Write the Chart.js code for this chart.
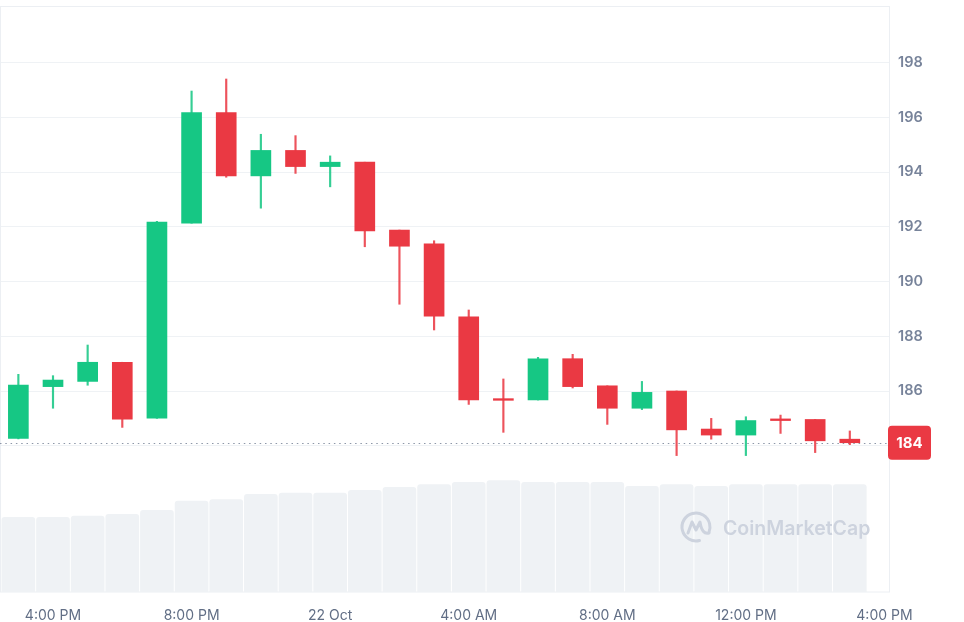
<!DOCTYPE html>
<html><head><meta charset="utf-8">
<script src="https://cdn.jsdelivr.net/npm/chart.js@4.4.1/dist/chart.umd.min.js"></script>
<style>html,body{margin:0;padding:0;background:#fff}#wrap{width:964px;height:622px;position:relative}</style>
</head><body><div id="wrap"><canvas id="c" width="964" height="622"></canvas></div>
<script>
// hourly candles, first = 3:00 PM 21 Oct
const opens  = [184.27,186.16,186.35,187.05,185.01,192.13,196.17,193.86,194.79,194.20,194.36,191.88,191.38,188.71,185.72,185.67,187.18,186.19,185.37,186.00,184.61,184.39,184.98,184.96,184.24];
const closes = [186.22,186.40,187.05,184.97,192.17,196.17,193.86,194.79,194.20,194.36,191.85,191.29,188.73,185.67,185.66,187.18,186.16,185.37,185.95,184.58,184.39,184.92,184.92,184.18,184.11];
const highs  = [186.61,186.56,187.68,187.05,192.20,196.96,197.40,195.38,195.33,194.59,194.36,191.88,191.49,188.96,186.44,187.23,187.34,186.19,186.35,186.00,185.00,185.06,185.12,184.96,184.54];
const lows   = [184.25,185.37,186.21,184.67,185.00,192.13,193.81,192.68,193.95,193.46,191.27,189.17,188.23,185.51,184.49,185.67,186.11,184.78,185.32,183.64,184.24,183.64,184.45,183.75,184.04];
const volumes = [74.6,74.6,76.0,77.6,81.6,91.0,92.3,97.6,99.0,99.0,101.6,104.6,107.3,109.6,111.3,109.6,109.6,109.6,105.6,107.3,105.6,107.3,107.3,107.3,107.3];
const tickPositions = [1,5,9,13,17,21,25];
const tickLabels = ["4:00 PM","8:00 PM","22 Oct","4:00 AM","8:00 AM","12:00 PM","4:00 PM"];
const priceTicks = [184,186,188,190,192,194,196,198];
const currentPrice = 184.11;

const GREEN = '#16c784', RED = '#ea3943';
const idx = opens.map((_, i) => i);
const candleColors = idx.map(i => closes[i] >= opens[i] ? GREEN : RED);
const FONT = 'Inter';

const overlay = {
  id: 'overlay',
  beforeDatasetsDraw(chart) {
    const {ctx, chartArea: a, scales} = chart;
    ctx.save();
    ctx.strokeStyle = '#eceff3'; ctx.lineWidth = 1;
    ctx.strokeRect(a.left + 0.5, a.top + 0.5, a.right - a.left - 1, a.bottom - a.top - 0.5);
    const y = Math.round(scales.y.getPixelForValue(currentPrice)) + 0.5;
    ctx.setLineDash([1.5, 3.8]); ctx.strokeStyle = '#8d97a8';
    ctx.beginPath(); ctx.moveTo(a.left, y); ctx.lineTo(a.right - 2, y); ctx.stroke();
    ctx.restore();
  },
  afterDatasetsDraw(chart) {
    const {ctx, chartArea: a} = chart;
    ctx.save();
    const col = '#cdd3de';
    const cx = a.right - 194, cy = a.bottom - 65;
    ctx.strokeStyle = col; ctx.lineWidth = 3; ctx.lineCap = 'round'; ctx.lineJoin = 'round';
    ctx.beginPath(); ctx.arc(cx, cy, 14, 0.42 * Math.PI, 2.12 * Math.PI); ctx.stroke();
    ctx.beginPath();
    ctx.moveTo(cx - 8, cy + 6); ctx.lineTo(cx - 4, cy - 5); ctx.lineTo(cx, cy + 3);
    ctx.lineTo(cx + 4, cy - 5); ctx.quadraticCurveTo(cx + 6, cy + 8, cx + 13, cy + 6);
    ctx.stroke();
    ctx.fillStyle = col; ctx.font = '600 19.5px ' + FONT; ctx.textBaseline = 'alphabetic';
    ctx.fillText('CoinMarketCap', cx + 27, cy + 8);
    ctx.restore();
  },
  afterDraw(chart) {
    const {ctx, chartArea: a, scales} = chart;
    const y = scales.y.getPixelForValue(currentPrice);
    ctx.save();
    ctx.fillStyle = RED;
    ctx.beginPath(); ctx.roundRect(a.right - 2, y - 17, 43, 34, 4); ctx.fill();
    ctx.fillStyle = '#fff'; ctx.font = '700 15px ' + FONT;
    ctx.textAlign = 'center'; ctx.textBaseline = 'middle';
    ctx.fillText(currentPrice.toFixed(0), a.right - 2 + 21.5, y + 0.5);
    ctx.restore();
  }
};

new Chart(document.getElementById('c'), {
  data: {
    datasets: [
      { type: 'bar', label: 'body', order: 1, grouped: false, yAxisID: 'y', xAxisID: 'x',
        data: idx.map(i => ({x: i, y: [opens[i], closes[i]]})),
        backgroundColor: candleColors, barThickness: 20, borderWidth: 0 },
      { type: 'bar', label: 'wick', order: 2, grouped: false, yAxisID: 'y', xAxisID: 'x',
        data: idx.map(i => ({x: i, y: [lows[i], highs[i]]})),
        backgroundColor: candleColors.map(c => c + 'dd'), barThickness: 1.5, borderWidth: 0 },
      { type: 'bar', label: 'volume', order: 3, grouped: false, yAxisID: 'yVol', xAxisID: 'x',
        data: idx.map(i => ({x: i, y: volumes[i]})),
        backgroundColor: '#eff2f5', barThickness: 33, borderWidth: 0,
        borderRadius: 3, borderSkipped: 'start' }
    ]
  },
  options: {
    responsive: false, animation: false, devicePixelRatio: 1,
    layout: { padding: { top: 6, left: 0, right: 0, bottom: 0 } },
    plugins: { legend: { display: false }, tooltip: { enabled: false } },
    scales: {
      x: {
        type: 'linear', position: 'bottom', min: -0.53, max: 25.16, offset: false,
        grid: { display: false, drawTicks: false }, border: { display: false },
        afterBuildTicks: s => { s.ticks = tickPositions.map(v => ({value: v})); },
        afterFit: s => { s.height = 30; s.paddingLeft = 0; s.paddingRight = 0; },
        ticks: {
          autoSkip: false, maxRotation: 0, padding: 15, color: '#616e85',
          font: { family: FONT, size: 14 },
          callback: v => { const k = tickPositions.indexOf(v); return k >= 0 ? tickLabels[k] : ''; }
        }
      },
      y: {
        position: 'right', min: 178.656, max: 200.067,
        grid: { color: '#eff2f5', drawTicks: false }, border: { display: false },
        afterBuildTicks: s => { s.ticks = priceTicks.map(v => ({value: v})); },
        afterFit: s => { s.width = 74; s.paddingTop = 0; s.paddingBottom = 0; },
        ticks: { padding: 8, color: '#77839a', font: { family: FONT, size: 14.5, weight: '600' },
          callback: v => String(v) }
      },
      yVol: { display: false, min: 0, max: 586 }
    }
  },
  plugins: [overlay]
});
</script></body></html>
